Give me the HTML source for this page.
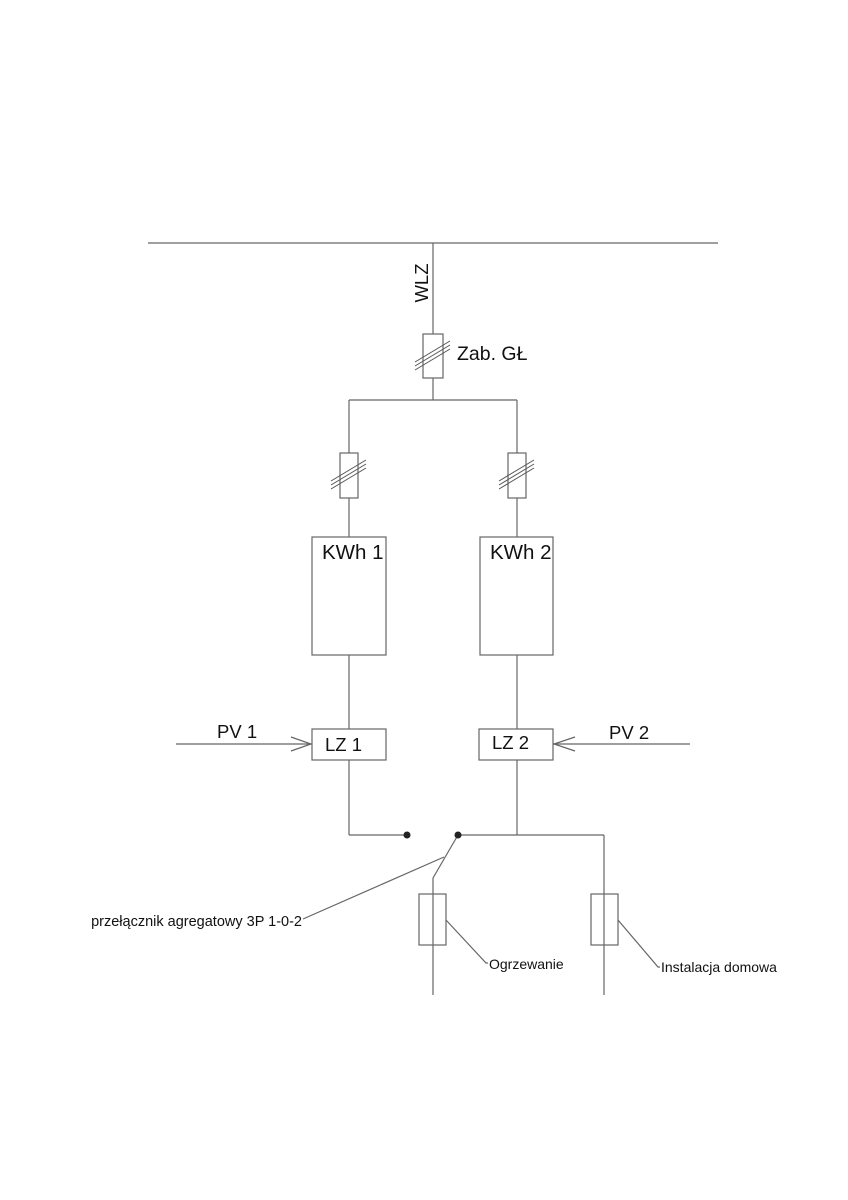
<!DOCTYPE html>
<html><head><meta charset="utf-8"><style>html,body{margin:0;padding:0;background:#fff}svg{display:block}</style></head><body>
<svg width="848" height="1200" viewBox="0 0 848 1200" xmlns="http://www.w3.org/2000/svg" font-family="Liberation Sans, sans-serif" fill="none" stroke="#666" stroke-width="1.2">
<line x1="148" y1="243" x2="718" y2="243"/>
<line x1="433" y1="243" x2="433" y2="334"/>
<rect x="423" y="334" width="20" height="44" fill="#fff"/>
<g stroke="#555" stroke-width="1"><line x1="415" y1="362" x2="450" y2="341"/><line x1="415" y1="366" x2="450" y2="345"/><line x1="415" y1="370" x2="450" y2="349"/></g>
<line x1="433" y1="378" x2="433" y2="400"/>
<line x1="349" y1="400" x2="517" y2="400"/>
<line x1="349" y1="400" x2="349" y2="453"/>
<line x1="517" y1="400" x2="517" y2="453"/>
<rect x="340" y="453" width="18" height="45" fill="#fff"/>
<rect x="508" y="453" width="18" height="45" fill="#fff"/>
<g stroke="#555" stroke-width="1"><line x1="331" y1="481" x2="366" y2="460"/><line x1="331" y1="485" x2="366" y2="464"/><line x1="331" y1="489" x2="366" y2="468"/>
<line x1="499" y1="481" x2="534" y2="460"/><line x1="499" y1="485" x2="534" y2="464"/><line x1="499" y1="489" x2="534" y2="468"/></g>
<line x1="349" y1="498" x2="349" y2="537"/>
<line x1="517" y1="498" x2="517" y2="537"/>
<rect x="312" y="537" width="74" height="118"/>
<rect x="480" y="537" width="73" height="118"/>
<line x1="349" y1="655" x2="349" y2="729"/>
<line x1="517" y1="655" x2="517" y2="729"/>
<rect x="312" y="729" width="74" height="31"/>
<rect x="479" y="729" width="74" height="31"/>
<line x1="176" y1="744" x2="312" y2="744"/>
<polyline points="291,737 311,744 291,751"/>
<line x1="553" y1="744" x2="690" y2="744"/>
<polyline points="575,737 554,744 575,751"/>
<line x1="349" y1="760" x2="349" y2="835"/>
<line x1="349" y1="835" x2="407" y2="835"/>
<line x1="517" y1="760" x2="517" y2="835"/>
<line x1="458" y1="835" x2="604" y2="835"/>
<line x1="604" y1="835" x2="604" y2="995"/>
<polyline points="458,835 433,878 433,995"/>
<circle cx="407" cy="835" r="3.5" fill="#222" stroke="none"/>
<circle cx="458" cy="835" r="3.5" fill="#222" stroke="none"/>
<line x1="444" y1="857" x2="303" y2="919"/>
<rect x="419" y="894" width="27" height="51"/>
<rect x="591" y="894" width="27" height="51"/>
<polyline points="446,920 486,963 488,963"/>
<polyline points="618,920 658,967 660,967"/>
<g fill="#111" stroke="none">
<text x="428" y="283" font-size="18.5" transform="rotate(-90 428 283)" text-anchor="middle">WLZ</text>
<text x="457" y="360" font-size="19.5">Zab. GŁ</text>
<text x="322" y="559" font-size="20.5">KWh 1</text>
<text x="490" y="559" font-size="20.5">KWh 2</text>
<text x="325" y="751" font-size="18.5">LZ 1</text>
<text x="492" y="749" font-size="18.5">LZ 2</text>
<text x="217" y="738" font-size="18.5">PV 1</text>
<text x="609" y="739" font-size="18.5">PV 2</text>
<text x="302" y="926" font-size="14.5" text-anchor="end">przełącznik agregatowy 3P 1-0-2</text>
<text x="489" y="969" font-size="14">Ogrzewanie</text>
<text x="661" y="972" font-size="14">Instalacja domowa</text>
</g>
</svg>
</body></html>
